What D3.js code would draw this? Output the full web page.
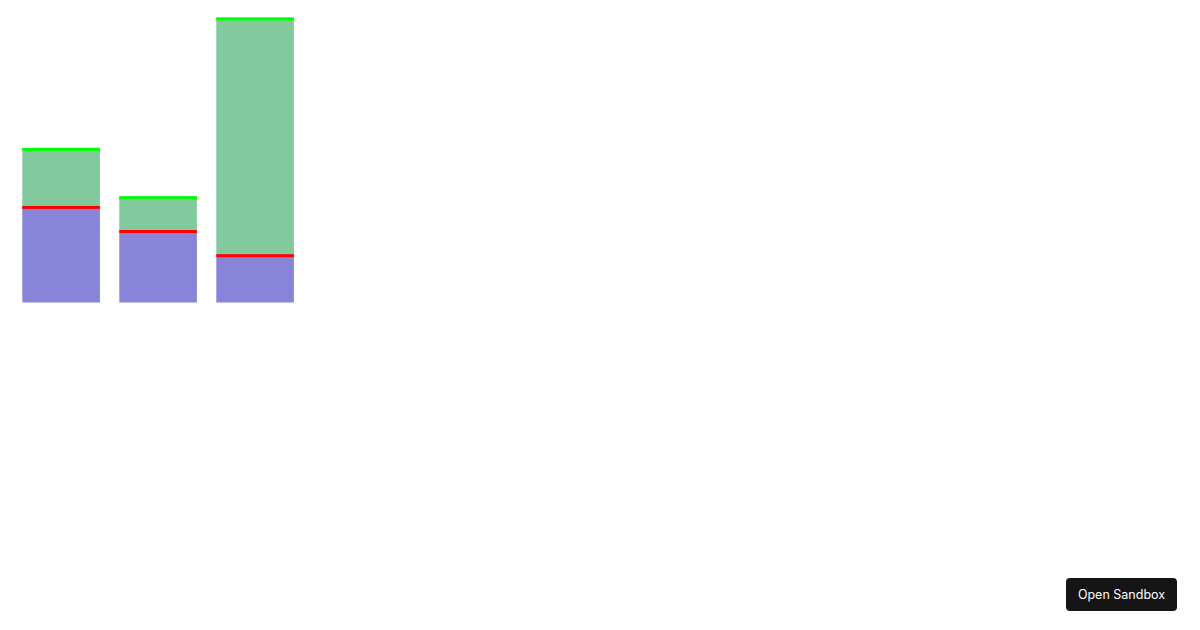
<!DOCTYPE html>
<html>
<head>
<meta charset="utf-8">
<script src="https://cdn.jsdelivr.net/npm/d3@7"></script>
<style>
  html, body { margin: 0; padding: 0; background: #fff; width: 1200px; height: 630px; overflow: hidden; font-family: Inter, Roboto, "Open Sans", sans-serif; }
  svg { position: absolute; left: 0; top: 0; }
  .btn { position: absolute; left: 1066px; top: 578px; width: 111px; height: 33px; background: #151515; color: #fff; border-radius: 4px; font-size: 12.5px; display: flex; align-items: center; justify-content: center; box-sizing: border-box; }
</style>
</head>
<body>
<div class="btn">Open Sandbox</div>
<script>
const categories = ["Page A", "Page B", "Page C"];
const uvValues = [4000, 3000, 2000];
const pvValues = [2400, 1398, 9800];

const svg = d3.select("body").append("svg").attr("width", 1200).attr("height", 630);

const x = d3.scaleBand().domain(categories).range([12.6, 303.6]).paddingInner(0.2).paddingOuter(0.1);
const totals = categories.map((c, i) => uvValues[i] + pvValues[i]);
const y = d3.scaleLinear().domain([0, d3.max(totals)]).range([302.5, 17.5]);

const data = categories.map((c, i) => ({ c, uv: uvValues[i], pv: pvValues[i] }));

const g = svg.append("g");
// uv segment (bottom)
g.selectAll(".uv").data(data).join("rect")
  .attr("x", d => x(d.c)).attr("width", x.bandwidth())
  .attr("y", d => y(d.uv)).attr("height", d => y(0) - y(d.uv))
  .attr("fill", "#8884d8");
// pv segment (top)
g.selectAll(".pv").data(data).join("rect")
  .attr("x", d => x(d.c)).attr("width", x.bandwidth())
  .attr("y", d => y(d.uv + d.pv)).attr("height", d => y(d.uv) - y(d.uv + d.pv))
  .attr("fill", "#82ca9d");
// top borders
g.selectAll(".uvTop").data(data).join("rect")
  .attr("x", d => x(d.c)).attr("width", x.bandwidth())
  .attr("y", d => y(d.uv)).attr("height", 3)
  .attr("fill", "#ff0000");
g.selectAll(".pvTop").data(data).join("rect")
  .attr("x", d => x(d.c)).attr("width", x.bandwidth())
  .attr("y", d => y(d.uv + d.pv)).attr("height", 3)
  .attr("fill", "#00ff00");
</script>
</body>
</html>
